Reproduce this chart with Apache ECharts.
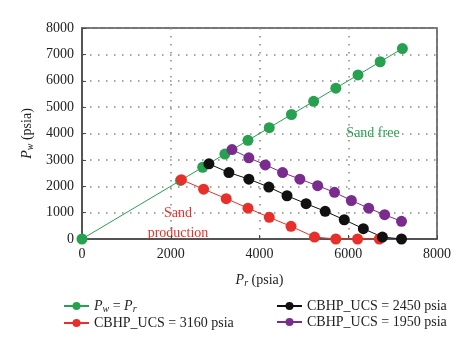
<!DOCTYPE html>
<html>
<head>
<meta charset="utf-8">
<script src="https://cdn.jsdelivr.net/npm/echarts@6/dist/echarts.min.js"></script>
<style>
  html, body { margin: 0; padding: 0; background: #fff; }
  #chart { width: 474px; height: 354px; }
</style>
</head>
<body>
<div id="chart"></div>
<script>
// values (psia)
const greenPr = [0, 2220, 2720, 3220, 3740, 4220, 4720, 5220, 5720, 6220, 6720, 7220]
const greenPw = [0, 2220, 2720, 3220, 3740, 4220, 4720, 5220, 5720, 6220, 6720, 7220]

const redPr = [2240, 2740, 3250, 3740, 4220, 4710, 5240, 5720, 6210, 6700]
const redPw = [2250, 1890, 1530, 1170, 820, 480, 75, 0, 0, 0]

const blackPr = [2860, 3310, 3760, 4210, 4620, 5050, 5480, 5910, 6340, 6770, 7200]
const blackPw = [2850, 2520, 2270, 1970, 1640, 1340, 1050, 730, 390, 75, 0]

const purplePr = [3380, 3760, 4130, 4520, 4910, 5310, 5690, 6070, 6460, 6820, 7200]
const purplePw = [3390, 3080, 2810, 2520, 2270, 2020, 1770, 1460, 1170, 920, 670]

const seriesNames = ['Pw = Pr', 'CBHP_UCS = 3160 psia', 'CBHP_UCS = 2450 psia', 'CBHP_UCS = 1950 psia']
const colors = ['#27a150', '#e8302a', '#111111', '#7a2c8e']

const FONT = '"Liberation Serif", "DejaVu Serif", serif'

const pairs = (xs, ys) => xs.map((x, i) => [x, ys[i]])

const chart = echarts.init(document.getElementById('chart'))

const mkSeries = (name, color, data) => ({
  name,
  type: 'line',
  data,
  clip: false,
  symbol: 'circle',
  symbolSize: 11,
  lineStyle: { color, width: 1 },
  itemStyle: { color },
  animation: false
})

// italic P with subscript, used in axis names and legend
const richText = {
  i: { fontFamily: FONT, fontStyle: 'italic', fontSize: 14, color: '#222' },
  s: { fontFamily: FONT, fontStyle: 'italic', fontSize: 10, color: '#222', verticalAlign: 'bottom', padding: [6, 0, 0, 0] },
  n: { fontFamily: FONT, fontSize: 14, color: '#222' }
}

const legendText = { fontFamily: FONT, fontSize: 14, color: '#222', rich: richText }

const legendFmt = (name) => {
  if (name === 'Pw = Pr') return '{i|P}{s|w}{n| = }{i|P}{s|r}'
  return name
}

const gridLine = { show: true, lineStyle: { color: '#888', type: [1.5, 6.5], width: 1.5 } }
const tickLabel = { fontFamily: FONT, fontSize: 14, color: '#222', formatter: (v) => String(v) }

chart.setOption({
  animation: false,
  color: colors,
  grid: {
    left: 82, right: 37, top: 28, bottom: 115,
    show: true, borderColor: '#4a4a4a', borderWidth: 1.5, backgroundColor: 'transparent'
  },
  xAxis: {
    type: 'value',
    min: 0, max: 8000, interval: 2000,
    name: '{i|P}{s|r}{n| (psia)}',
    nameLocation: 'middle',
    nameGap: 33,
    nameTextStyle: { rich: richText },
    axisLine: { lineStyle: { color: '#4a4a4a', width: 1.5 } },
    axisTick: { show: true, inside: true, length: 4, lineStyle: { color: '#4a4a4a' } },
    axisLabel: Object.assign({ margin: 8 }, tickLabel),
    splitLine: gridLine
  },
  yAxis: {
    type: 'value',
    min: 0, max: 8000, interval: 1000,
    name: '{i|P}{s|w}{n| (psia)}',
    nameLocation: 'middle',
    nameGap: 43,
    nameRotate: 90,
    nameTextStyle: { rich: richText },
    axisLine: { show: true, lineStyle: { color: '#4a4a4a', width: 1.5 } },
    axisTick: { show: true, inside: true, length: 4, lineStyle: { color: '#4a4a4a' } },
    axisLabel: Object.assign({ margin: 8 }, tickLabel),
    splitLine: gridLine
  },
  legend: [
    {
      data: [seriesNames[0], seriesNames[1]],
      orient: 'vertical',
      left: 58, top: 294,
      itemWidth: 25, itemHeight: 10, itemGap: 2,
      textStyle: legendText,
      formatter: legendFmt
    },
    {
      data: [seriesNames[2], seriesNames[3]],
      orient: 'vertical',
      left: 271, top: 294,
      itemWidth: 25, itemHeight: 10, itemGap: 2,
      textStyle: legendText,
      formatter: legendFmt
    }
  ],
  graphic: [
    {
      type: 'text', x: 373, y: 126,
      style: { text: 'Sand free', align: 'center', fontFamily: FONT, fontSize: 14, fill: '#27a150' }
    },
    {
      type: 'text', x: 178, y: 203,
      style: { text: 'Sand\nproduction', align: 'center', lineHeight: 20, fontFamily: FONT, fontSize: 14, fill: '#e8302a' }
    }
  ],
  series: [
    mkSeries(seriesNames[0], colors[0], pairs(greenPr, greenPw)),
    mkSeries(seriesNames[1], colors[1], pairs(redPr, redPw)),
    mkSeries(seriesNames[2], colors[2], pairs(blackPr, blackPw)),
    mkSeries(seriesNames[3], colors[3], pairs(purplePr, purplePw))
  ]
})
</script>
</body>
</html>
